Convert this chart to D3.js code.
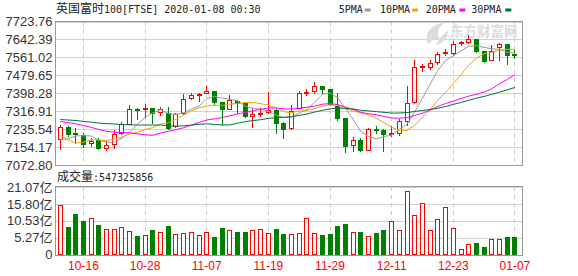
<!DOCTYPE html>
<html>
<head>
<meta charset="utf-8">
<script src="https://cdn.jsdelivr.net/npm/d3@7"></script>
<style>
  body { margin: 0; background: #fff; }
  text { font-family: "Liberation Sans", Arial, sans-serif; }
</style>
</head>
<body>
<div id="chart"></div>
<script>
// trading days shown on the chart
const dates = ["10-11","10-14","10-15","10-16","10-17","10-18","10-21","10-22","10-23","10-24","10-25","10-28","10-29","10-30","10-31",
  "11-01","11-04","11-05","11-06","11-07","11-08","11-11","11-12","11-13","11-14","11-15","11-18","11-19","11-20","11-21","11-22","11-25","11-26","11-27","11-28","11-29",
  "12-02","12-03","12-04","12-05","12-06","12-09","12-10","12-11","12-12","12-13","12-16","12-17","12-18","12-19","12-20","12-23","12-24","12-27","12-30","12-31",
  "01-02","01-03","01-06","01-07"];

const open  = [7190,7245,7216,7209,7171,7186,7151,7168,7216,7260,7327,7325,7331,7313,7308,7250,7309,7375,7393,7401,7407,7357,7328,7364,7352,7294,7307,7312,7324,7264,7239,7333,7399,7407,7431,7416,7340,7285,7162,7185,7141,7238,7232,7213,7216,7274,7358,7519,7517,7538,7580,7583,7624,7631,7645,7590,7549,7606,7620,7577];
const high  = [7252,7251,7239,7217,7194,7197,7182,7230,7267,7344,7331,7350,7333,7336,7334,7310,7395,7398,7401,7432,7409,7359,7390,7368,7354,7333,7330,7405,7326,7266,7345,7407,7419,7449,7433,7419,7401,7287,7199,7194,7240,7250,7234,7248,7280,7431,7549,7533,7549,7587,7599,7636,7636,7664,7646,7592,7619,7626,7622,7595];
const low   = [7147,7204,7174,7155,7159,7145,7140,7149,7214,7258,7282,7292,7265,7299,7236,7246,7306,7371,7363,7398,7351,7260,7326,7309,7292,7244,7295,7310,7219,7197,7237,7331,7389,7399,7395,7344,7276,7133,7138,7135,7139,7219,7138,7205,7210,7254,7356,7500,7508,7529,7572,7572,7617,7624,7586,7538,7547,7550,7532,7558];
const close = [7247,7213,7212,7168,7183,7151,7164,7213,7258,7327,7323,7330,7310,7329,7240,7303,7370,7389,7397,7407,7360,7329,7366,7353,7294,7305,7310,7324,7264,7238,7318,7398,7403,7430,7418,7350,7286,7160,7187,7139,7238,7232,7215,7216,7271,7353,7519,7523,7536,7576,7585,7623,7630,7644,7589,7545,7590,7621,7574,7573];

// volume in 亿
const volume = [15.6,8.6,12.6,10.5,11.3,9.3,7.9,7.9,8.5,7.4,5.9,6.1,7.7,7.1,9.0,6.4,6.7,7.0,6.1,7.0,5.5,8.3,7.7,7.1,7.1,7.7,7.9,6.7,7.9,6.5,
  6.4,6.7,11.3,6.7,6.2,6.5,9.0,9.6,7.1,7.1,5.8,6.8,7.7,10.5,7.7,19.75,12.3,16.0,7.7,11.1,14.8,8.3,1.85,3.3,3.7,2.3,4.9,4.7,5.55,5.47];

// moving averages as plotted
const ma5  = [7188.2,7191.2,7205.0,7205.3,7204.6,7185.4,7175.6,7175.8,7193.8,7222.6,7257.0,7290.2,7309.6,7323.8,7306.4,7302.4,7310.4,7326.2,7339.8,7373.2,7384.6,7376.4,7371.8,7363.0,7340.4,7329.4,7325.6,7317.2,7299.4,7288.2,7290.8,7308.4,7324.2,7357.4,7393.4,7399.8,7377.4,7328.8,7280.2,7224.4,7202.0,7191.2,7202.2,7208.0,7234.4,7257.4,7314.8,7376.4,7440.4,7501.4,7547.8,7568.6,7590.0,7611.6,7614.2,7606.2,7599.6,7597.8,7583.8,7580.6];
const ma10 = [7206.5,7187.0,7172.2,7176.7,7187.2,7186.8,7183.4,7190.4,7199.5,7213.6,7221.2,7232.9,7242.7,7258.8,7264.5,7279.7,7300.3,7317.9,7331.8,7339.8,7343.5,7343.4,7349.0,7351.4,7356.8,7357.0,7351.0,7344.5,7331.2,7314.3,7310.1,7317.0,7320.7,7328.4,7340.8,7345.3,7342.9,7326.5,7318.8,7308.9,7300.9,7284.3,7265.5,7244.1,7229.4,7229.7,7253.0,7289.3,7324.2,7367.9,7402.6,7441.7,7483.2,7526.0,7557.8,7577.0,7584.1,7593.9,7597.7,7597.4];
const ma20 = [7270.4,7264.9,7259.5,7252.2,7243.5,7233.8,7225.7,7221.8,7220.2,7219.0,7213.9,7209.9,7207.4,7217.8,7225.9,7233.2,7241.9,7254.1,7265.7,7276.7,7282.4,7288.2,7295.9,7305.1,7310.7,7318.4,7325.7,7331.2,7331.5,7327.1,7326.8,7330.2,7334.9,7339.9,7348.8,7351.2,7347.0,7335.5,7325.0,7311.6,7305.5,7300.7,7293.1,7286.3,7285.1,7287.5,7298.0,7307.9,7321.5,7338.4,7351.8,7363.0,7374.4,7385.1,7393.6,7403.4,7418.6,7441.6,7461.0,7482.7];
const ma30 = [7279.2,7276.9,7275.0,7270.3,7267.3,7262.9,7260.5,7258.7,7256.0,7255.5,7254.0,7254.3,7253.9,7254.4,7250.5,7249.1,7250.6,7253.8,7257.4,7259.3,7257.1,7254.4,7254.6,7262.3,7269.5,7274.5,7278.2,7284.3,7287.5,7289.2,7291.6,7297.8,7304.1,7312.9,7320.7,7327.3,7331.4,7329.6,7327.3,7321.0,7318.2,7314.9,7311.7,7308.0,7309.0,7310.7,7315.6,7320.1,7324.7,7330.4,7337.9,7347.7,7356.5,7366.2,7376.0,7384.0,7393.3,7403.2,7413.6,7424.7];

const priceTicks = [7072.80,7154.17,7235.54,7316.91,7398.28,7479.65,7561.02,7642.39,7723.76];
const volTicks = [0,5.27,10.53,15.80,21.07];
const dateTicks = ["10-16","10-28","11-07","11-19","11-29","12-11","12-23","01-07"];

const maNames  = ["5PMA","10PMA","20PMA","30PMA"];
const maColors = ["#999999","#f5a300","#ff00ff","#00703c"];
const upColor = "#ff0000", downColor = "#008000";

// layout
const width = 578, height = 276;
const left = 56, right = 522;
const kTop = 21.5, kBottom = 165;
const vTop = 187, vBottom = 254.5;

const svg = d3.select("#chart")
  .append("svg")
  .attr("width", width)
  .attr("height", height);

const x = d3.scaleBand().domain(dates).range([left, 518.3]);
const px = d => Math.round(x(d) + x.bandwidth() / 2);
const y = d3.scaleLinear().domain([7072.80, 7723.76]).range([kBottom, kTop]);
const yv = d3.scaleLinear().domain([0, 21.07]).range([vBottom, vTop]);
const snap = v => Math.round(v) + 0.5;

// horizontal grid
svg.append("g").selectAll("line").data(priceTicks).join("line")
  .attr("x1", left).attr("x2", right)
  .attr("y1", d => snap(y(d))).attr("y2", d => snap(y(d)))
  .attr("stroke", "#d0d0d0");
svg.append("g").selectAll("line").data(volTicks).join("line")
  .attr("x1", left).attr("x2", right)
  .attr("y1", d => snap(yv(d))).attr("y2", d => snap(yv(d)))
  .attr("stroke", "#d0d0d0");

// vertical dashed grid
[[kTop, kBottom], [vTop, vBottom]].forEach(([t, b]) => {
  svg.append("g").selectAll("line").data(dateTicks).join("line")
    .attr("x1", d => px(d) + 0.5).attr("x2", d => px(d) + 0.5)
    .attr("y1", t).attr("y2", b)
    .attr("stroke", "#c8c8c8")
    .attr("stroke-dasharray", "4,4");
});

// watermark
const wm = svg.append("g").attr("fill", "#dcdcdc");
wm.append("path").attr("d", "M428,44 C424,34 430,24 446,22 C438,27 436,33 440,40 C436,38 433,40 428,44 Z");
wm.append("path").attr("d", "M436,45 C440,36 446,33 448,30 C448,38 444,43 436,45 Z");
wm.append("text").attr("x", 450).attr("y", 35.5).attr("font-size", 13.5).attr("font-weight", "bold")
  .style("font-family", "'Noto Sans CJK SC', sans-serif").text("东方财富网");
wm.append("text").attr("x", 452).attr("y", 47).attr("font-size", 7).attr("fill", "#e6e6e6")
  .text("eastmoney.com");

// candles
const candles = svg.append("g").attr("shape-rendering", "crispEdges");
dates.forEach((d, i) => {
  const p = px(d);
  const up = close[i] >= open[i];
  const col = up ? upColor : downColor;
  candles.append("line")
    .attr("x1", p + 0.5).attr("x2", p + 0.5)
    .attr("y1", Math.round(y(high[i]))).attr("y2", Math.round(y(low[i])) + 1)
    .attr("stroke", col);
  const top = snap(y(Math.max(open[i], close[i])));
  const bot = snap(y(Math.min(open[i], close[i])));
  candles.append("rect")
    .attr("x", p - 1.5).attr("width", 4)
    .attr("y", top).attr("height", Math.max(bot - top, 1))
    .attr("fill", up ? "#fff" : col)
    .attr("stroke", col);
});

// moving average lines
const line = d3.line()
  .x((v, i) => x(dates[i]) + x.bandwidth() / 2 + 0.5)
  .y(v => y(v));
[ma5, ma10, ma20, ma30].forEach((s, k) => {
  svg.append("path")
    .datum(s)
    .attr("d", line)
    .attr("fill", "none")
    .attr("stroke", maColors[k])
    .attr("stroke-width", 1);
});

// volume bars
const bars = svg.append("g").attr("shape-rendering", "crispEdges");
dates.forEach((d, i) => {
  const p = px(d);
  const up = close[i] >= open[i];
  const col = up ? upColor : downColor;
  const t = snap(yv(volume[i]));
  bars.append("rect")
    .attr("x", p - 1.5).attr("width", 4)
    .attr("y", t).attr("height", Math.floor(vBottom) - t)
    .attr("fill", up ? "#fff" : col)
    .attr("stroke", col);
});

// frames
[[kTop, kBottom], [vTop, vBottom]].forEach(([t, b]) => {
  svg.append("rect")
    .attr("x", left - 0.5).attr("y", snap(t) - 1)
    .attr("width", right - left + 1).attr("height", Math.round(b) - Math.round(t) + 1)
    .attr("fill", "none").attr("stroke", "#999")
    .attr("shape-rendering", "crispEdges");
});

// y axes
svg.append("g")
  .attr("transform", `translate(${left - 0.5},0)`)
  .call(d3.axisLeft(y).tickValues(priceTicks).tickSize(0).tickPadding(3).tickFormat(d3.format(".2f")))
  .call(g => g.select(".domain").remove())
  .selectAll("text")
  .attr("font-size", 13).attr("fill", "#333")
  .style("font-family", "'Liberation Sans', Arial, sans-serif");

svg.append("g")
  .attr("transform", `translate(${left - 0.5},0)`)
  .call(d3.axisLeft(yv).tickValues(volTicks).tickSize(0).tickPadding(3)
    .tickFormat(v => v === 0 ? "0" : d3.format(".2f")(v) + "亿"))
  .call(g => g.select(".domain").remove())
  .selectAll("text")
  .attr("font-size", 13).attr("fill", "#333")
  .style("font-family", "'Liberation Sans', 'Noto Sans CJK SC', sans-serif");

// x axis
svg.append("g")
  .attr("transform", `translate(0.5,${261.5})`)
  .call(d3.axisBottom(x).tickValues(dateTicks).tickSize(0).tickPadding(0))
  .call(g => g.select(".domain").remove())
  .selectAll("text")
  .attr("font-size", 12).attr("fill", "#ff0000")
  .style("font-family", "'Liberation Sans', Arial, sans-serif");

// title
const mono = "'DejaVu Sans Mono', monospace";
const cjk = "'Noto Sans CJK SC', sans-serif";
const title = svg.append("text").attr("x", left).attr("y", 12.5).attr("fill", "#222");
title.append("tspan").style("font-family", cjk).attr("font-size", 12).text("英国富时");
title.append("tspan").style("font-family", mono).attr("font-size", 10).text("100[FTSE] 2020-01-08 00:30");

// legend
const legendX = [338.7, 380, 425.7, 471.3];
const dashX = [364.7, 412, 459.3, 505.3];
maNames.forEach((n, k) => {
  svg.append("text").attr("x", legendX[k]).attr("y", 12.5)
    .attr("font-size", 10).attr("fill", "#222")
    .style("font-family", mono).text(n);
  svg.append("rect").attr("x", dashX[k]).attr("y", 8.5)
    .attr("width", 6).attr("height", 3).attr("fill", maColors[k]);
});

// volume caption
const vol = svg.append("text").attr("x", 57).attr("y", 181).attr("fill", "#222");
vol.append("tspan").style("font-family", cjk).attr("font-size", 12).text("成交量");
vol.append("tspan").style("font-family", mono).attr("font-size", 10).text(":547325856");
</script>
</body>
</html>
